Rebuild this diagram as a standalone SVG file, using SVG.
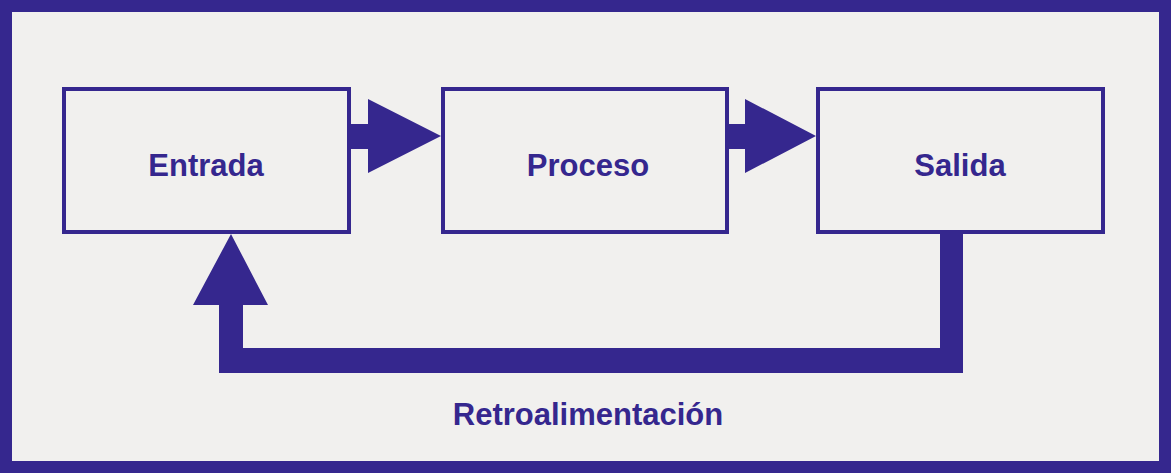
<svg xmlns="http://www.w3.org/2000/svg" width="1171" height="474" viewBox="0 0 1171 474">
<style>
.box{fill:#f1f0ee;stroke:#35278e;stroke-width:4}
.t{font-family:"Liberation Sans",Arial,sans-serif;font-weight:bold;font-size:31px;fill:#35278e;text-anchor:middle}
.c{fill:#35278e}
</style>
<rect x="6" y="6" width="1159" height="461" fill="#f1f0ee" stroke="#35278e" stroke-width="12"/>
<g id="entrada"><rect class="box" x="64" y="89" width="285" height="143"/><text class="t" x="206" y="176">Entrada</text></g>
<g id="proceso"><rect class="box" x="443" y="89" width="284" height="143"/><text class="t" x="588" y="176">Proceso</text></g>
<g id="salida"><rect class="box" x="818" y="89" width="285" height="143"/><text class="t" x="960" y="176">Salida</text></g>
<g id="connectors" class="c">
<polygon points="351,124 368,124 368,99 441,136 368,173 368,149 351,149"/>
<polygon points="729,124 745,124 745,99 816,136 745,173 745,149 729,149"/>
<polygon points="940,234 963,234 963,373 219,373 219,305 193,305 231,234 268,305 243,305 243,348 940,348"/>
</g>
<text class="t" x="588" y="425">Retroalimentación</text>
</svg>
